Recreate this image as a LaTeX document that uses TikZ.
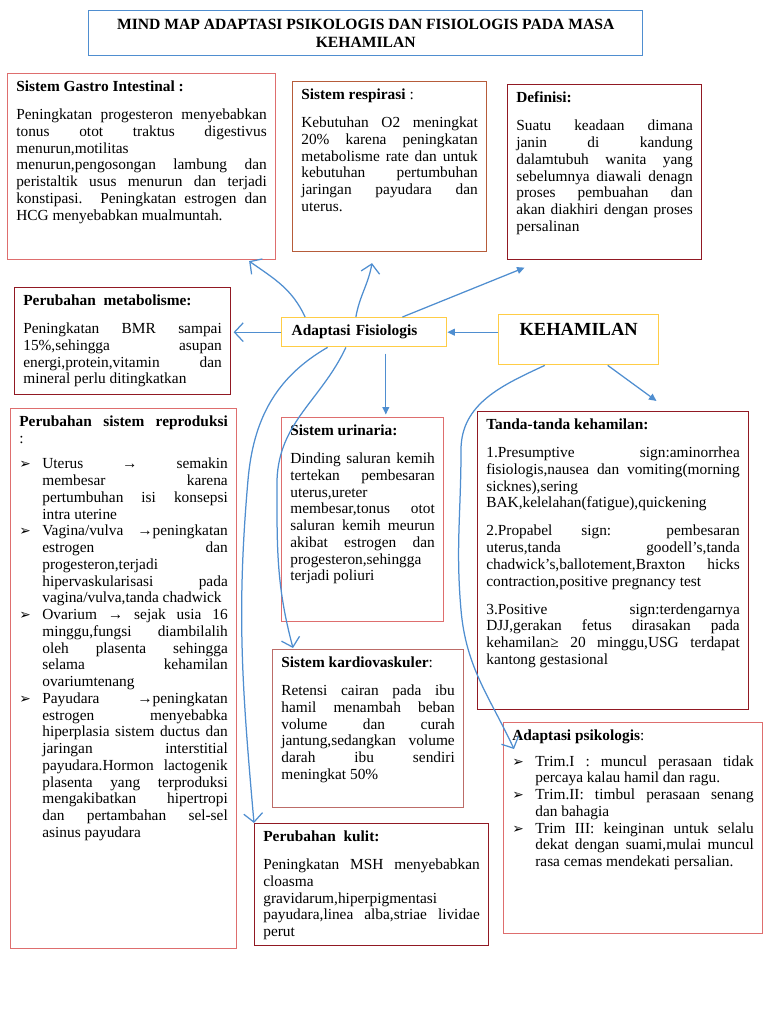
\documentclass[tikz,border=0pt]{standalone}
\usepackage{fontspec}
\setmainfont{Liberation Serif}
\newfontfamily\symfont{DejaVu Sans}
\usetikzlibrary{arrows.meta,calc,positioning}
\definecolor{bluln}{RGB}{79,142,208}
\definecolor{gold}{RGB}{255,205,70}
\definecolor{rose}{RGB}{222,110,110}
\definecolor{maroon}{RGB}{145,25,35}
\definecolor{rust}{RGB}{182,92,58}
\definecolor{mauve}{RGB}{188,108,104}
\hyphenpenalty=10000
\exhyphenpenalty=10000
\tolerance=10000
\hbadness=10000
% box content: width and height in px of the frame
\newcommand{\card}[3]{\parbox[t][\dimexpr #2pt*4/5-12pt\relax][t]{\dimexpr #1pt*4/5-14pt\relax}{#3}}
\newcommand{\boxgap}[1][9pt]{\par\vspace{#1}}
\newcommand{\arrowitem}{\par\hangindent=18.4pt\hangafter=1\noindent\makebox[18.4pt][l]{\symfont\fontsize{11}{11}\selectfont ➢}}
\newcommand{\nl}{\linebreak}

\begin{document}
\begin{tikzpicture}[x=0.8pt,y=-0.8pt,
  panel/.style={draw,line width=0.9pt,inner xsep=7pt,inner ysep=6pt,anchor=north west,font=\fontsize{12.3}{13.4}\selectfont},
  link/.style={draw=bluln,line width=1pt},
  tri/.style={link,-{Triangle[length=6pt,width=5.5pt]}},
  barb/.style={link,-{Straight Barb[length=7pt,width=15pt]}}]
  \useasboundingbox (0,0) rectangle (768,1024);
  % title
  \node[draw=bluln,line width=1.1pt,anchor=north west,minimum width=443.2pt,minimum height=36pt,align=center,
    font=\bfseries\fontsize{12.5}{14.4}\selectfont] (judul) at (88,10) {MIND MAP ADAPTASI PSIKOLOGIS DAN FISIOLOGIS PADA MASA\\KEHAMILAN};
  % centre
  \node[draw=gold,line width=1.1pt,anchor=north west,minimum height=23.2pt,text width=116pt,inner xsep=8pt,
    font=\bfseries\fontsize{12.3}{13.4}\selectfont] (fisio) at (281,317) {Adaptasi Fisiologis};
  \node[draw=gold,line width=1.1pt,anchor=north west,minimum width=128pt,inner ysep=0pt,text height=16.8pt,text depth=23.2pt,
    font=\bfseries\fontsize{14.8}{16}\selectfont] (hamil) at (498,314) {KEHAMILAN};
  % top row
  \node[panel,draw=rose] (gastro) at (7,73) {\card{268}{186}{\textbf{Sistem Gastro Intestinal :}\boxgap
    Peningkatan progesteron menyebabkan\nl tonus otot traktus digestivus\nl menurun,motilitas\nl menurun,pengosongan lambung dan\nl
    peristaltik usus menurun dan terjadi\nl konstipasi. Peningkatan estrogen dan\nl HCG menyebabkan mualmuntah.}};
  \node[panel,draw=rust] (respi) at (292,81) {\card{194}{170}{\textbf{Sistem respirasi} :\boxgap
    Kebutuhan O2 meningkat\nl 20\% karena peningkatan\nl metabolisme rate dan untuk\nl kebutuhan pertumbuhan\nl jaringan payudara dan\nl uterus.}};
  \node[panel,draw=maroon] (defin) at (507,84) {\card{194}{175}{\textbf{Definisi:}\boxgap
    Suatu keadaan dimana\nl janin di kandung\nl dalamtubuh wanita yang\nl sebelumnya diawali denagn\nl proses pembuahan dan\nl akan diakhiri dengan proses\nl persalinan}};
  \node[panel,draw=maroon] (metab) at (14,287) {\card{216}{107}{\textbf{Perubahan\ \ metabolisme:}\boxgap
    Peningkatan BMR sampai\nl 15\%,sehingga asupan\nl energi,protein,vitamin dan\nl mineral perlu ditingkatkan}};
  % lower boxes
  \node[panel,draw=rose] (repro) at (10,408) {\card{226}{540}{\textbf{Perubahan sistem reproduksi}\nl :\boxgap[7pt]
    \arrowitem Uterus → semakin\nl membesar karena\nl pertumbuhan isi konsepsi\nl intra uterine
    \arrowitem Vagina/vulva →peningkatan\nl estrogen dan\nl progesteron,terjadi\nl hipervaskularisasi pada\nl vagina/vulva,tanda chadwick
    \arrowitem Ovarium → sejak usia 16\nl minggu,fungsi diambilalih\nl oleh plasenta sehingga\nl selama kehamilan\nl ovariumtenang
    \arrowitem Payudara →peningkatan\nl estrogen menyebabka\nl hiperplasia sistem ductus dan\nl jaringan interstitial\nl payudara.Hormon lactogenik\nl
    plasenta yang terproduksi\nl mengakibatkan hipertropi\nl dan pertambahan sel-sel\nl asinus payudara}};
  \node[panel,draw=rose] (urin) at (281,417) {\card{162}{204}{\textbf{Sistem urinaria:}\boxgap
    Dinding saluran kemih\nl tertekan pembesaran\nl uterus,ureter\nl membesar,tonus otot\nl saluran kemih meurun\nl akibat estrogen dan\nl progesteron,sehingga\nl terjadi poliuri}};
  \node[panel,draw=maroon] (tanda) at (477,411) {\card{271}{298}{\textbf{Tanda-tanda kehamilan:}\boxgap
    1.Presumptive sign:aminorrhea\nl fisiologis,nausea dan vomiting(morning\nl sicknes),sering\newline BAK,kelelahan(fatigue),quickening\boxgap
    2.Propabel sign: pembesaran\nl uterus,tanda goodell's,tanda\nl chadwick's,ballotement,Braxton hicks\nl contraction,positive pregnancy test\boxgap
    3.Positive sign:terdengarnya\nl DJJ,gerakan fetus dirasakan pada\nl kehamilan≥ 20 minggu,USG terdapat\nl kantong gestasional}};
  \node[panel,draw=mauve] (kardio) at (272,649) {\card{191}{158}{\textbf{Sistem kardiovaskuler}:\boxgap
    Retensi cairan pada ibu\nl hamil menambah beban\nl volume dan curah\nl jantung,sedangkan volume\nl darah ibu sendiri\nl meningkat 50\%}};
  \node[panel,draw=maroon] (kulit) at (254,823) {\card{234}{122}{\textbf{Perubahan\ \ kulit:}\boxgap
    Peningkatan MSH menyebabkan\nl cloasma\nl gravidarum,hiperpigmentasi\nl payudara,linea alba,striae lividae\nl perut}};
  \node[panel,draw=rose] (psiko) at (503,722) {\card{259}{211}{\textbf{Adaptasi psikologis}:\boxgap[7pt]
    \arrowitem Trim.I : muncul perasaan tidak\nl percaya kalau hamil dan ragu.
    \arrowitem Trim.II: timbul perasaan senang\nl dan bahagia
    \arrowitem Trim III: keinginan untuk selalu\nl dekat dengan suami,mulai muncul\nl rasa cemas mendekati persalian.}};
  % connectors from KEHAMILAN
  \draw[tri] (hamil.west |- fisio.east) -- (fisio.east);
  \draw[tri,shorten >=13.6pt] ($(hamil.south west)!.68!(hamil.south east)$) -- ($(tanda.north west)!.71!(tanda.north east)$);
  \draw[barb] ($(hamil.south west)!.29!(hamil.south east)$) to[out=-155,in=90] (461,450) to[out=-90,in=95] (461,610)
    to[out=-85,in=115] ($(psiko.north west)+(11,27)$);
  % connectors from Adaptasi Fisiologis
  \draw[barb] ($(fisio.north west)!.145!(fisio.north east)$) to[out=115,in=-35] ($(gastro.south east)+(-27,1)$);
  \draw[barb] ($(fisio.north west)!.45!(fisio.north east)$) to[out=80,in=-100] ($(respi.south west)!.41!(respi.south east)+(0,11)$);
  \draw[tri,shorten >=16pt] ($(fisio.north west)!.73!(fisio.north east)$) -- ($(defin.south west)!.185!(defin.south east)$);
  \draw[barb,shorten >=2pt] (fisio.west) -- (metab.east |- fisio.west);
  \coordinate (fs) at ($(fisio.south west)!.63!(fisio.south east)$);
  \draw[tri,shorten <=5pt,shorten >=2pt] (fs) -- (fs |- urin.north);
  \draw[barb] ($(fisio.south west)!.39!(fisio.south east)$) to[out=-115,in=88] (277,480) to[out=-90,in=105] ($(kardio.north west)+(21,-1)$);
  \draw[barb] ($(fisio.south west)!.28!(fisio.south east)$) to[out=-150,in=85] (248,480) to[out=-95,in=95] (kulit.north west);
\end{tikzpicture}
\end{document}
